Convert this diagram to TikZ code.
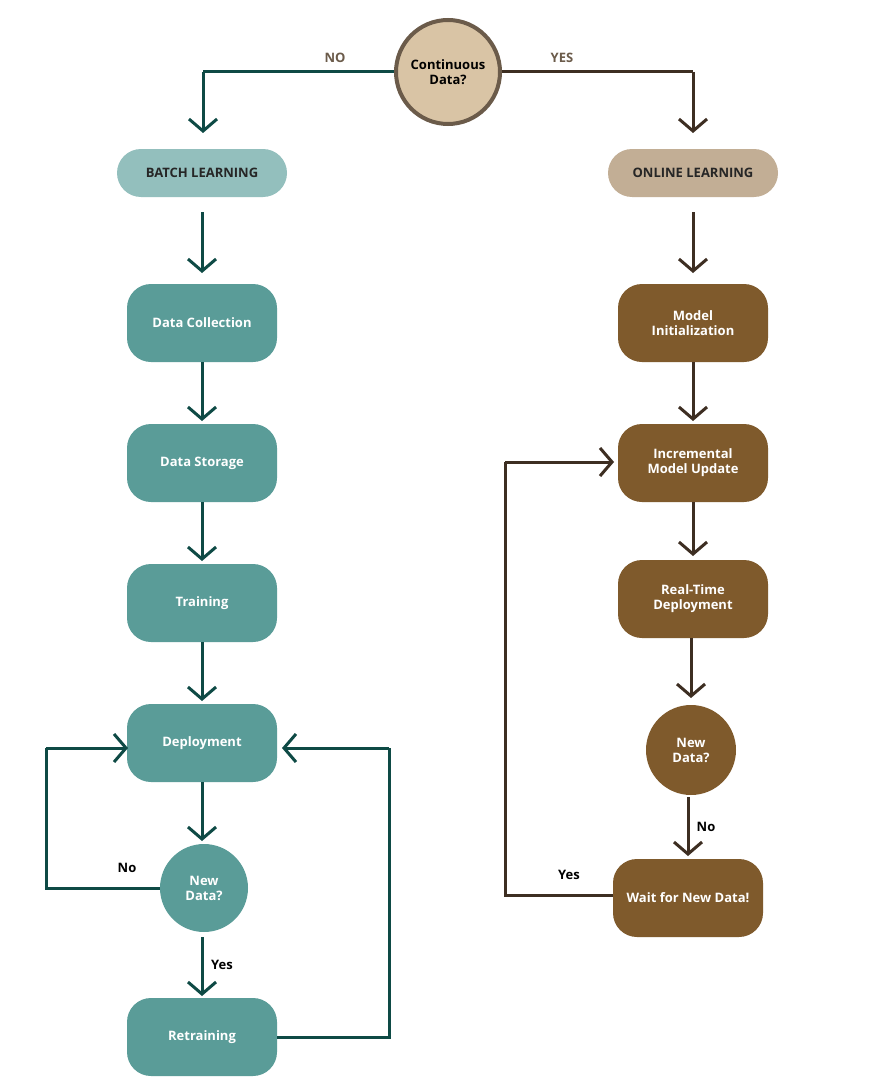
\documentclass[tikz,border=0pt]{standalone}
\usepackage{fontspec}
\setmainfont{Open Sans}
\usetikzlibrary{arrows.meta}
\definecolor{tealD}{HTML}{0E4A45}
\definecolor{brownD}{HTML}{3D2E22}
\definecolor{tealF}{HTML}{5A9C98}
\definecolor{tealL}{HTML}{93BFBD}
\definecolor{brownF}{HTML}{7F5A2C}
\definecolor{brownL}{HTML}{C2AE95}
\definecolor{tan}{HTML}{D9C4A5}
\definecolor{tanB}{HTML}{6B5B4A}
\begin{document}
\begin{tikzpicture}[x=1pt,y=-1pt,
  txt/.style={font=\fontsize{13}{15}\selectfont\bfseries,align=center},
  lbl/.style={font=\fontsize{13}{15}\selectfont\bfseries,text=black},
  box/.style={txt,draw=none,rounded corners=24pt,minimum width=150pt,minimum height=78pt,text=white},
  tb/.style={box,fill=tealF},
  bb/.style={box,fill=brownF},
  pill/.style={txt,rounded corners=24pt,minimum width=170pt,minimum height=48pt,text=black!85},
  circ/.style={txt,circle,text=white,minimum size=88pt,inner sep=0pt},
  ta/.style={draw=tealD,line width=3pt,-{Straight Barb[length=12pt,width=28pt]}},
  ba/.style={draw=brownD,line width=3pt,-{Straight Barb[length=12pt,width=28pt]}},
  tl/.style={draw=tealD,line width=3pt},
  bl/.style={draw=brownD,line width=3pt}]
\useasboundingbox (0,0) rectangle (872,1089);
\fill[white] (0,0) rectangle (872,1089);
% top
\node[circ,fill=tan,draw=tanB,line width=4pt,text=black,minimum size=104pt] (cd) at (448,72) {Continuous\\Data?};
\node[pill,fill=tealL] (bl) at (202,173) {BATCH LEARNING};
\node[pill,fill=brownL] (ol) at (693,173) {ONLINE LEARNING};
\coordinate (c1) at (203,72); \coordinate (c2) at (203,133);
\coordinate (c3) at (693,72); \coordinate (c4) at (693,133);
\draw[tl] (cd.west) -- (c1); \draw[ta] (c1) -- (c2);
\draw[bl] (cd.east) -- (c3); \draw[ba] (c3) -- (c4);
\node[lbl,text=tanB] at (335,58) {NO};
\node[lbl,text=tanB] at (562,58) {YES};
% left column
\node[tb] (dc) at (202,323) {Data Collection};
\node[tb] (ds) at (202,463) {Data Storage};
\node[tb] (tr) at (202,603) {Training};
\node[tb] (de) at (202,743) {Deployment};
\node[circ,fill=tealF] (nd1) at (204,888) {New\\Data?};
\node[tb] (re) at (202,1037) {Retraining};
\coordinate (a1) at (202,212); \coordinate (a2) at (202,273);
\draw[ta] (a1) -- (a2);
\coordinate (b1) at (202,362); \coordinate (b2) at (202,421); \draw[ta] (b1) -- (b2);
\coordinate (b3) at (202,502); \coordinate (b4) at (202,561); \draw[ta] (b3) -- (b4);
\coordinate (b5) at (202,642); \coordinate (b6) at (202,701); \draw[ta] (b5) -- (b6);
\coordinate (b7) at (202,782); \coordinate (b8) at (202,841); \draw[ta] (b7) -- (b8);
\coordinate (b9) at (202,937); \coordinate (b10) at (202,996); \draw[ta] (b9) -- (b10);
\node[lbl] at (222,965) {Yes};
\coordinate (l1) at (46,888); \coordinate (l2) at (46,748); \coordinate (l3) at (128,748);
\draw[tl] (nd1.west) -- (l1) -- (l2); \draw[ta] (l2) -- (l3);
\node[lbl] at (127,868) {No};
\coordinate (r1) at (389,1037); \coordinate (r2) at (389,748); \coordinate (r3) at (282,748);
\draw[tl] (re.east) -- (r1) -- (r2); \draw[ta] (r2) -- (r3);
% right column
\node[bb] (mi) at (693,323) {Model\\Initialization};
\node[bb] (im) at (693,463) {Incremental\\Model Update};
\node[bb] (rt) at (693,599) {Real-Time\\Deployment};
\node[circ,fill=brownF,minimum size=90pt] (nd2) at (691,750) {New\\Data?};
\node[bb] (wn) at (688,898) {Wait for New Data!};
\coordinate (o1) at (693,212); \coordinate (o2) at (693,273); \draw[ba] (o1) -- (o2);
\coordinate (o3) at (693,362); \coordinate (o4) at (693,421); \draw[ba] (o3) -- (o4);
\coordinate (o5) at (693,502); \coordinate (o6) at (693,556); \draw[ba] (o5) -- (o6);
\coordinate (o7) at (691,638); \coordinate (o8) at (691,698); \draw[ba] (o7) -- (o8);
\coordinate (o9) at (688,797); \coordinate (o10) at (688,856); \draw[ba] (o9) -- (o10);
\node[lbl] at (706,827) {No};
\coordinate (y1) at (505,895); \coordinate (y2) at (505,462); \coordinate (y3) at (614,462);
\draw[bl] (wn.west |- y1) -- (y1) -- (y2); \draw[ba] (y2) -- (y3);
\node[lbl] at (569,875) {Yes};
\end{tikzpicture}
\end{document}
